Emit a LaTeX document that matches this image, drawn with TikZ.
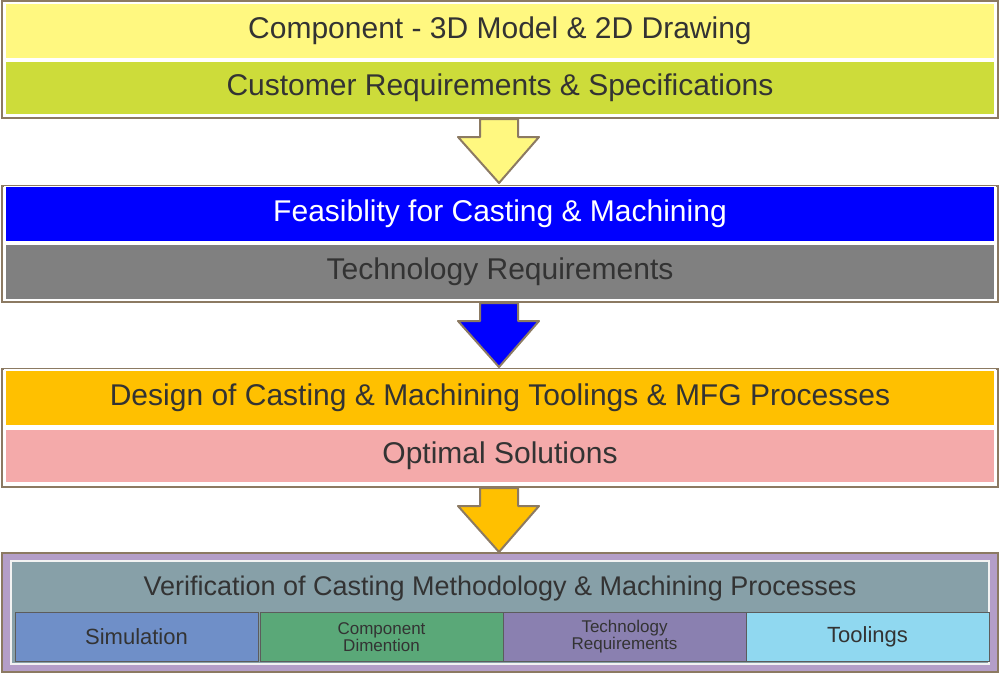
\documentclass[tikz,border=0pt]{standalone}
\usepackage{fontspec}
\setmainfont{Liberation Sans}
\usetikzlibrary{calc}
\definecolor{frame}{HTML}{8C7A62}
\definecolor{txt}{HTML}{333333}
\tikzset{
 outer/.style={draw=frame,line width=2.5pt,fill=white},
 band/.style={draw=white,line width=1.5pt,inner sep=0pt,text=txt,font=\fontsize{30}{30}\selectfont},
 cell/.style={draw=txt!80,line width=1pt,inner sep=0pt,text=txt,font=\fontsize{22}{22}\selectfont,minimum height=49pt,minimum width=243pt,align=center},
 smallcell/.style={draw=txt!80,line width=1pt,inner sep=0pt,text=txt,font=\fontsize{17}{17}\selectfont,minimum height=49pt,minimum width=243pt,align=center},
 arr/.style={draw=frame,line width=2pt,line join=round}
}
\begin{document}
\begin{tikzpicture}[x=1pt,y=-1pt]
\useasboundingbox (0,0) rectangle (1000,674);
% box 1
\draw[outer] (2,1) rectangle (998,118);
\node[band,fill=yellow!50,minimum width=990pt,minimum height=56pt] (b1a) at (500,31) {Component - 3D Model \& 2D Drawing};
\node[band,fill={rgb,255:red,205;green,220;blue,58},minimum width=990pt,minimum height=53pt] (b1b) at (500,88) {Customer Requirements \& Specifications};
% box 2
\draw[outer] (2,186) rectangle (998,302);
\node[band,fill=blue,text=white,minimum width=990pt,minimum height=55pt] (b2a) at (500,214) {Feasiblity for Casting \& Machining};
\node[band,fill=gray,text=txt,minimum width=990pt,minimum height=55pt] (b2b) at (500,272) {Technology Requirements};
% box 3
\draw[outer] (2,369) rectangle (998,487);
\node[band,fill={rgb,255:red,255;green,192;blue,0},minimum width=990pt,minimum height=56pt] (b3a) at (500,398) {Design of Casting \& Machining Toolings \& MFG Processes};
\node[band,fill={rgb,255:red,244;green,170;blue,170},minimum width=990pt,minimum height=54pt] (b3b) at (500,456) {Optimal Solutions};
% arrows
\foreach \y/\c in {119/{yellow!50},303/blue,488/{rgb,255:red,255;green,192;blue,0}}{
 \draw[arr,fill=\c] (480,\y) -- (518,\y) -- (518,\y+18) -- (539,\y+18) -- (499,\y+64) -- (458,\y+18) -- (480,\y+18) -- cycle;
}
% box 4
\draw[draw=frame,line width=2.5pt,fill={rgb,255:red,180;green,158;blue,200}] (2,553) rectangle (998,672);
\draw[draw=white!90!gray,line width=1.5pt,fill={rgb,255:red,135;green,160;blue,168}] (11,561) rectangle (989,664);
\node[text=txt,font=\fontsize{27}{27}\selectfont] (v) at (500,589) {Verification of Casting Methodology \& Machining Processes};
\node[cell,fill={rgb,255:red,111;green,143;blue,200}] (c1) at (136.5,637) {Simulation};
\node[smallcell,fill={rgb,255:red,90;green,168;blue,120}] (c2) at (381.5,637) {Component\\Dimention};
\node[smallcell,fill={rgb,255:red,138;green,128;blue,176}] (c3) at (624.5,637) {Technology\\Requirements};
\node[cell,fill={rgb,255:red,144;green,216;blue,240}] (c4) at (867.5,637) {Toolings};
\end{tikzpicture}
\end{document}
